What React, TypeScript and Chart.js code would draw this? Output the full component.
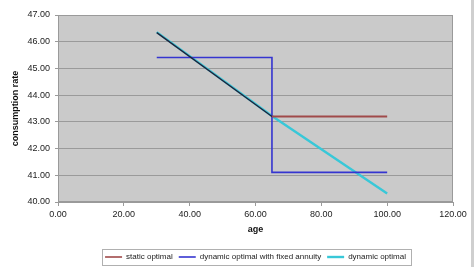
import React, { useEffect, useRef } from "react";
import { Chart, registerables } from "chart.js";

Chart.register(...registerables);

const staticAges = [30, 65, 100];
const staticRates = [46.34, 43.2, 43.2];
const fixedAges = [30, 65, 65, 100];
const fixedRates = [45.41, 45.41, 41.11, 41.11];
const dynamicAges = [30, 65, 100];
const dynamicRates = [46.36, 43.22, 40.32];
const seriesNames = ["static optimal", "dynamic optimal with fixed annuity", "dynamic optimal"];

const toPoints = (xs: number[], ys: number[]) => xs.map((x, i) => ({ x, y: ys[i] }));

const decor = {
  id: "decor",
  beforeDraw(chart: any) {
    const { ctx, chartArea } = chart;
    ctx.save();
    ctx.fillStyle = "#fff";
    ctx.fillRect(0, 0, chart.width, chart.height);
    ctx.fillStyle = "#cacaca";
    ctx.fillRect(chartArea.left, chartArea.top, chartArea.right - chartArea.left, chartArea.bottom - chartArea.top);
    ctx.restore();
  },
  afterDraw(chart: any) {
    const { ctx, chartArea } = chart;
    ctx.save();
    ctx.strokeStyle = "#9a9a9a";
    ctx.lineWidth = 1;
    ctx.strokeRect(chartArea.left + 0.5, chartArea.top + 0.5, chartArea.right - chartArea.left - 1, chartArea.bottom - chartArea.top - 1);
    const boxes = chart.legend?.legendHitBoxes;
    if (boxes && boxes.length) {
      const first = boxes[0];
      const last = boxes[boxes.length - 1];
      const l = first.left - 3;
      const r = last.left + last.width + 5;
      const t = first.top - 4;
      const b = first.top + first.height + 4;
      ctx.strokeStyle = "#b0b0b0";
      ctx.strokeRect(Math.round(l) + 0.5, Math.round(t) + 0.5, Math.round(r - l), Math.round(b - t));
    }
    ctx.fillStyle = "#cfcfcf";
    ctx.fillRect(471, 0, 3, chart.height);
    ctx.restore();
  },
};

export default function App() {
  const ref = useRef<HTMLCanvasElement>(null);
  useEffect(() => {
    document.body.style.margin = "0";
    const family = "Arial, 'Liberation Sans', sans-serif";
    const tickFont = { family, size: 9 };
    const legendFont = { family, size: 8 };
    const titleFont = { family, size: 9, weight: "bold" };
    const chart = new Chart(ref.current!, {
      type: "line",
      data: {
        datasets: [
          {
            label: seriesNames[0],
            data: toPoints(staticAges, staticRates),
            borderColor: "#a04a4a",
            backgroundColor: "#a04a4a",
            borderWidth: 1.6,
            pointRadius: 0,
            segment: {
              borderColor: (c: any) => (c.p0DataIndex === 0 ? "#20203a" : "#a04a4a"),
              borderWidth: (c: any) => (c.p0DataIndex === 0 ? 1.3 : 1.8),
            },
          },
          {
            label: seriesNames[1],
            data: toPoints(fixedAges, fixedRates),
            borderColor: "#3535d0",
            backgroundColor: "#3535d0",
            borderWidth: 1.6,
            pointRadius: 0,
          },
          {
            label: seriesNames[2],
            data: toPoints(dynamicAges, dynamicRates),
            borderColor: "#38c8d8",
            backgroundColor: "#38c8d8",
            borderWidth: 2.4,
            pointRadius: 0,
          },
        ],
      },
      options: {
        animation: false,
        responsive: false,
        devicePixelRatio: 1,
        layout: { padding: { left: 0, top: 15, right: 21, bottom: -4 } },
        plugins: {
          tooltip: { enabled: false },
          legend: {
            position: "bottom",
            fullSize: false,
            labels: {
              font: legendFont,
              color: "#222",
              padding: 6,
              usePointStyle: true,
              pointStyle: "line",
              pointStyleWidth: 17,
            },
          },
        },
        scales: {
          x: {
            type: "linear",
            min: 0,
            max: 120,
            ticks: { stepSize: 20, font: tickFont, color: "#222", padding: 3, callback: (v: any) => Number(v).toFixed(2) },
            grid: { drawOnChartArea: false, drawTicks: true, tickLength: 4, color: "#9a9a9a" },
            border: { display: false },
            title: { display: true, text: "age", font: titleFont, color: "#111", padding: { top: 0, bottom: 12 } },
            afterFit: (s: any) => { s.height = 45; },
          },
          y: {
            min: 40,
            max: 47,
            ticks: { stepSize: 1, font: tickFont, color: "#222", padding: 5, callback: (v: any) => Number(v).toFixed(2) },
            grid: { drawOnChartArea: true, drawTicks: true, tickLength: 3, color: "#9a9a9a" },
            border: { display: false },
            title: { display: true, text: "consumption rate", font: titleFont, color: "#111", padding: { top: 10, bottom: 0 } },
            afterFit: (s: any) => { s.width = 58; },
          },
        },
      },
      plugins: [decor],
    } as any);
    return () => chart.destroy();
  }, []);
  return (
    <div style={{ position: "fixed", left: 0, top: 0, width: 474, height: 267 }}>
      <canvas ref={ref} width={474} height={267} />
    </div>
  );
}
